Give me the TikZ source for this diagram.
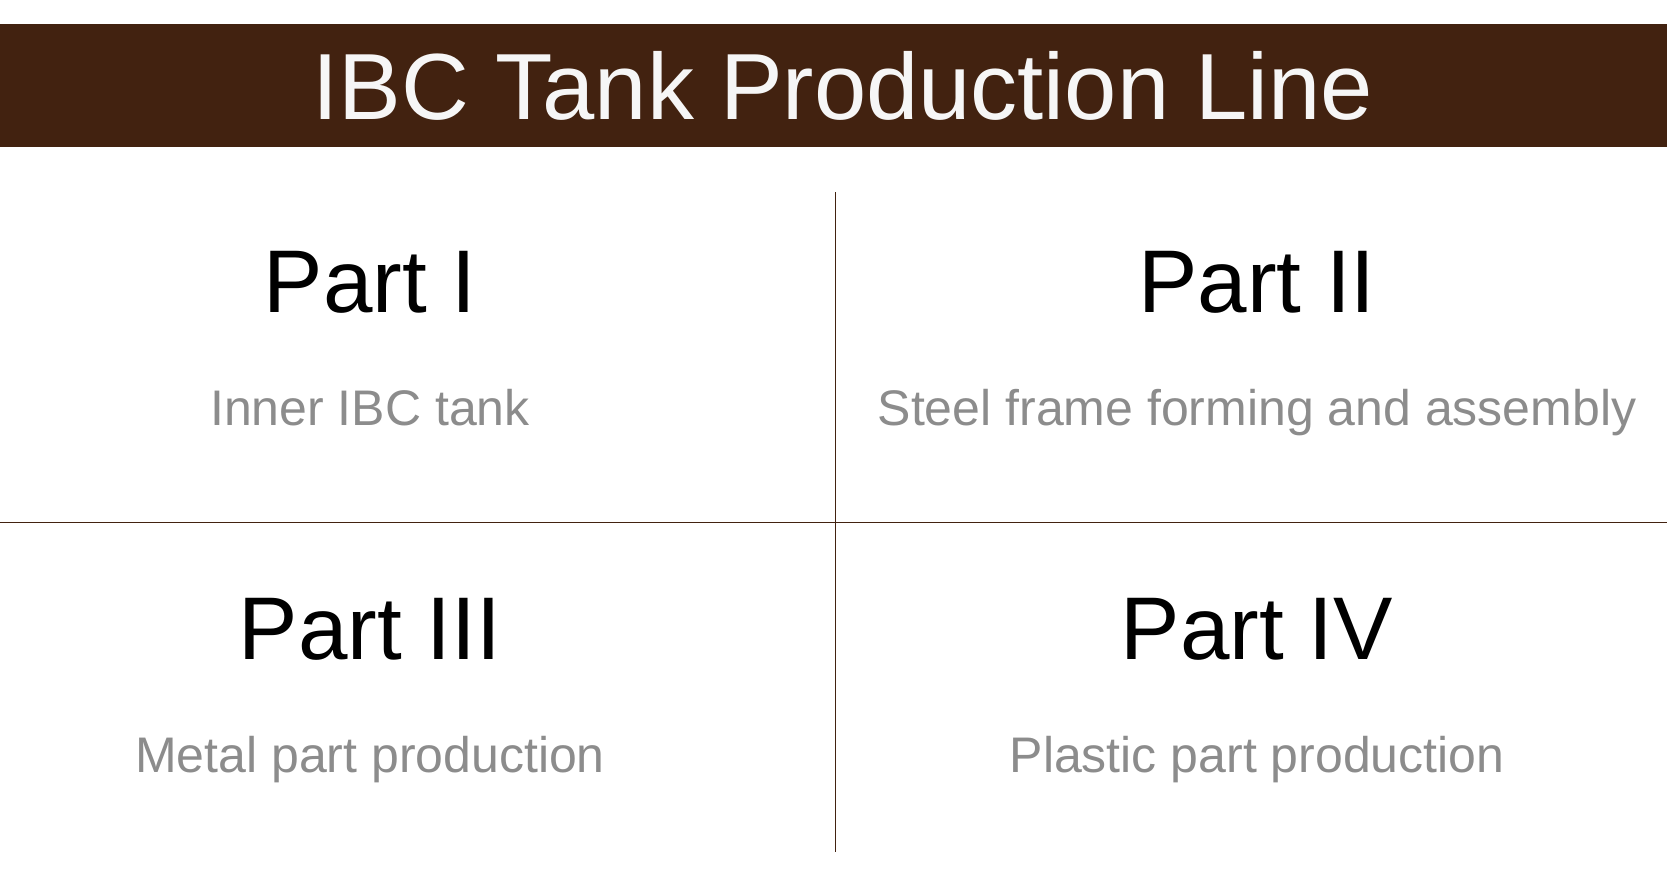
\documentclass[tikz,border=0pt]{standalone}
\usepackage{fontspec}
\setmainfont{Liberation Sans}
\definecolor{banner}{RGB}{66,34,16}
\definecolor{subgray}{RGB}{140,140,140}
\definecolor{titlewhite}{RGB}{246,246,246}
\begin{document}
\begin{tikzpicture}[x=0.75pt,y=-0.75pt,
  titletext/.style={anchor=base,inner sep=0pt,text=titlewhite,font=\fontsize{70.5pt}{70.5pt}\selectfont},
  parttext/.style={anchor=base,inner sep=0pt,text=black,font=\fontsize{66.75pt}{66.75pt}\selectfont},
  subtext/.style={anchor=base,inner sep=0pt,text=subgray,font=\fontsize{37.5pt}{37.5pt}\selectfont},
  divider/.style={draw=banner,line width=0.75pt}]
\useasboundingbox (0,0) rectangle (1667,878);
\fill[white] (0,0) rectangle (1667,878);
\fill[banner] (0,24) rectangle (1667,146.5);
\node[titletext] (title) at (843,119.3) {IBC Tank Production Line};
% grid lines
\coordinate (vtop) at (835.5,192);
\coordinate (vbot) at (835.5,851.7);
\coordinate (hleft) at (0,522.3);
\coordinate (hright) at (1667,522.3);
\draw[divider] (vtop) -- (vbot);
\draw[divider] (hleft) -- (hright);
% cells
\node[parttext] (p1) at (370,312.7) {Part I};
\node[subtext] (s1) at (370,425) {Inner IBC tank};
\node[parttext] (p2) at (1257,312.7) {Part II};
\node[subtext] (s2) at (1257,425) {Steel frame forming and assembly};
\node[parttext] (p3) at (370,659.5) {Part III};
\node[subtext] (s3) at (370,772.7) {Metal part production};
\node[parttext] (p4) at (1257,659.5) {Part IV};
\node[subtext] (s4) at (1257,772.7) {Plastic part production};
\end{tikzpicture}
\end{document}
